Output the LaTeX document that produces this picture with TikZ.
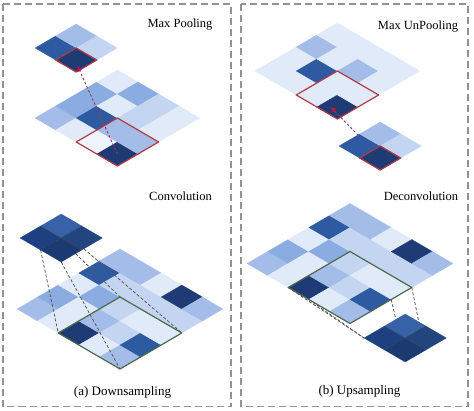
\documentclass[tikz,border=0pt]{standalone}
\usepackage{fontspec}
\setmainfont{Liberation Serif}
\usetikzlibrary{arrows.meta}
\definecolor{cA}{HTML}{E0EAF9}
\definecolor{cW}{HTML}{EEF3FC}
\definecolor{cB}{HTML}{C3D5F1}
\definecolor{cC}{HTML}{A3BDE8}
\definecolor{cD}{HTML}{8BACE0}
\definecolor{cE}{HTML}{2D5AA0}
\definecolor{cF}{HTML}{1E3B75}
\definecolor{kA}{HTML}{1F4080}
\definecolor{kB}{HTML}{3762A8}
\definecolor{kC}{HTML}{1C3A72}
\definecolor{kD}{HTML}{23457F}
\definecolor{myred}{HTML}{B03A48}
\definecolor{reddash}{HTML}{9B3A55}
\definecolor{tipred}{HTML}{C8102E}
\definecolor{mygreen}{HTML}{4E6A4E}
\newcommand{\gc}[3]{\fill[#3, draw=#3, line width=0.2pt] (#1,#2) -- ++(1,0) -- ++(0,1) -- ++(-1,0) -- cycle;}
\tikzset{
 frame/.style={draw=gray!85, line width=1.1pt, dash pattern=on 7pt off 4pt},
 lbl/.style={font=\fontsize{12.5}{14}\selectfont, inner sep=0pt},
 cellv/.style={x={(20.6pt,-12pt)}, y={(20.6pt,12pt)}},
 redbox/.style={draw=myred, line width=1.2pt, line join=round},
 greenbox/.style={draw=mygreen, line width=1.2pt, line join=round},
 redline/.style={draw=reddash, line width=0.9pt, dash pattern=on 2.5pt off 2pt},
 redtip/.style={-{Latex[length=6pt,width=5pt,color=tipred]}},
 grayline/.style={draw=gray!70!black, line width=0.8pt, dash pattern=on 3pt off 2pt},
 kline/.style={draw=mygreen!70!black, line width=0.5pt, opacity=0.6},
}
\begin{document}
\begin{tikzpicture}[x=1pt,y=-1pt]
\useasboundingbox (0,0) rectangle (474,411);
\fill[white] (0,0) rectangle (474,411);
% frames
\draw[frame] (3,4) rectangle (231,406.5);
\draw[frame] (241,4) rectangle (468,406.5);

% ---------- Max pooling ----------
\begin{scope}[shift={(35,118)}, cellv]
 \foreach \i/\j/\c in {0/0/cC,0/1/cD,0/2/cD,0/3/cA,1/0/cA,1/1/cE,1/2/cA,1/3/cD,
   2/0/cW,2/1/cC,2/2/cB,2/3/cB,3/0/cF,3/1/cC,3/2/cA,3/3/cA} {\gc{\i}{\j}{\c}}
 \draw[redbox] (2,0) -- (4,0) -- (4,2) -- (2,2) -- cycle;
 \coordinate (poolsrc) at (3.5,0.5);
\end{scope}
\begin{scope}[shift={(35,48)}, cellv]
 \foreach \i/\j/\c in {0/0/cE,0/1/cC,1/0/cF,1/1/cB} {\gc{\i}{\j}{\c}}
 \draw[redbox] (1,0) -- (2,0) -- (2,1) -- (1,1) -- cycle;
 \coordinate (pooldst) at (1.75,0.3);
\end{scope}
\draw[redline, redtip] (poolsrc) -- (pooldst);

% ---------- Convolution ----------
\begin{scope}[shift={(17,309)}, cellv]
 \foreach \i/\j/\c in {0/0/cC,1/0/cA,2/0/cF,3/0/cA,4/0/cC,
   0/1/cD,1/1/cA,2/1/cC,3/1/cB,4/1/cE,
   0/2/cA,1/2/cD,2/2/cB,3/2/cA,4/2/cA,
   0/3/cE,1/3/cB,2/3/cB,3/3/cB,4/3/cB,
   0/4/cC,1/4/cC,2/4/cA,3/4/cF,4/4/cC} {\gc{\i}{\j}{\c}}
 \draw[greenbox] (2,0) -- (5,0) -- (5,3) -- (2,3) -- cycle;
 \coordinate (cgl) at (2,0);
 \coordinate (cgb) at (5,0);
 \coordinate (cgr) at (5,3);
 \coordinate (cgt) at (2,3);
\end{scope}
\begin{scope}[shift={(20,238)}, cellv]
 \coordinate (ka) at (1,0);
 \coordinate (kb) at (2,0);
 \coordinate (kc) at (2,0.7);
 \coordinate (kd) at (2,1.1);
\end{scope}
\draw[grayline] (ka) -- (cgl);
\draw[grayline] (kb) -- (cgb);
\draw[grayline] (kc) -- (cgt);
\draw[grayline] (kd) -- (cgr);
\begin{scope}[shift={(20,238)}, cellv]
 \foreach \i/\j/\c in {0/0/kA,0/1/kB,1/0/kC,1/1/kD} {\gc{\i}{\j}{\c}}
 \draw[kline] (1,0) -- (1,2) (0,1) -- (2,1);
\end{scope}

% ---------- Max unpooling ----------
\begin{scope}[shift={(255,71)}, cellv]
 \foreach \i/\j/\c in {0/0/cA,0/1/cA,0/2/cC,0/3/cA,1/0/cA,1/1/cE,1/2/cA,1/3/cA,
   2/0/cA,2/1/cA,2/2/cC,2/3/cA,3/0/cF,3/1/cA,3/2/cA,3/3/cA} {\gc{\i}{\j}{\c}}
 \draw[redbox] (2,0) -- (4,0) -- (4,2) -- (2,2) -- cycle;
 \coordinate (unpdst) at (3.3,0.35);
\end{scope}
\begin{scope}[shift={(339,146)}, cellv]
 \coordinate (unpsrc) at (1.5,0.5);
\end{scope}
\draw[redline, redtip] (unpsrc) -- (unpdst);
\begin{scope}[shift={(339,146)}, cellv]
 \foreach \i/\j/\c in {0/0/cE,0/1/cC,1/0/cF,1/1/cB} {\gc{\i}{\j}{\c}}
 \draw[redbox] (1,0) -- (2,0) -- (2,1) -- (1,1) -- cycle;
\end{scope}

% ---------- Deconvolution ----------
\begin{scope}[shift={(247,263.5)}, cellv]
 \foreach \i/\j/\c in {0/0/cC,1/0/cA,2/0/cF,3/0/cA,4/0/cC,
   0/1/cD,1/1/cA,2/1/cC,3/1/cB,4/1/cE,
   0/2/cA,1/2/cD,2/2/cB,3/2/cA,4/2/cA,
   0/3/cE,1/3/cB,2/3/cB,3/3/cB,4/3/cB,
   0/4/cC,1/4/cC,2/4/cA,3/4/cF,4/4/cC} {\gc{\i}{\j}{\c}}
 \draw[greenbox] (2,0) -- (5,0) -- (5,3) -- (2,3) -- cycle;
 \coordinate (dgl) at (2,0);
 \coordinate (dg3) at (3,0);
 \coordinate (dg52) at (5,2);
 \coordinate (dgr) at (5,3);
\end{scope}
\begin{scope}[shift={(364,338)}, cellv]
 \coordinate (sl) at (0,0);
 \coordinate (sm) at (0.2,1.4);
 \coordinate (sn) at (0.85,1.85);
\end{scope}
\draw[grayline] (dgl) -- (sl);
\draw[grayline] (dg3) -- (sl);
\draw[grayline] (dg52) -- (sm);
\draw[grayline] (dgr) -- (sn);
\begin{scope}[shift={(364,338)}, cellv]
 \foreach \i/\j/\c in {0/0/kA,0/1/kB,1/0/kC,1/1/kD} {\gc{\i}{\j}{\c}}
 \draw[kline] (1,0) -- (1,2) (0,1) -- (2,1);
\end{scope}

% ---------- labels ----------
\node[lbl] (tmp) at (180,24.2) {Max Pooling};
\node[lbl] (tmu) at (418,27) {Max UnPooling};
\node[lbl] (tcv) at (180.5,196) {Convolution};
\node[lbl] (tdc) at (421,196.5) {Deconvolution};
\node[lbl, font=\fontsize{13}{15}\selectfont] (tca) at (122.5,392.5) {(a) Downsampling};
\node[lbl, font=\fontsize{13}{15}\selectfont] (tcb) at (359.5,391.7) {(b) Upsampling};
\end{tikzpicture}
\end{document}
